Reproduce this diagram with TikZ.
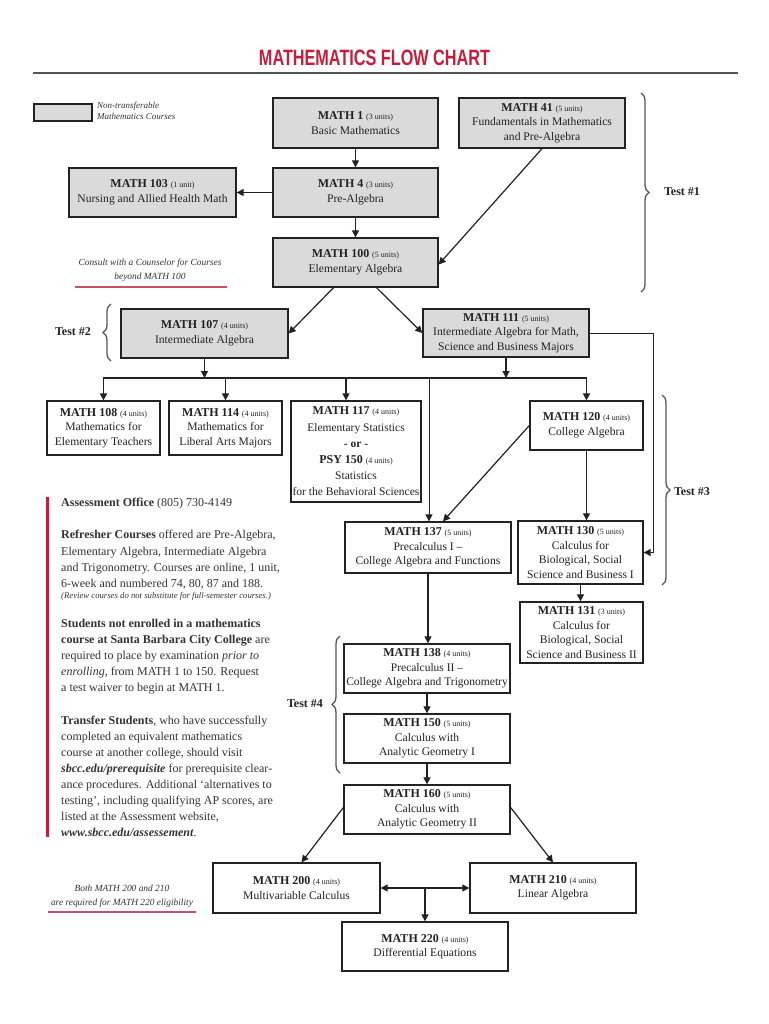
\documentclass[tikz,border=0pt]{standalone}
\usepackage{fontspec}
\setmainfont{Liberation Serif}
\newfontfamily\titlefont{Liberation Sans}
\usetikzlibrary{arrows.meta,decorations.pathreplacing,calc}
\definecolor{sbred}{HTML}{C41E3A}
\definecolor{txt}{HTML}{222222}
\definecolor{ltxt}{HTML}{333333}
\definecolor{boxgray}{HTML}{DADADA}
\definecolor{notered}{HTML}{C8506A}
\definecolor{rulegray}{HTML}{555555}
\newcommand\crstitle[2]{{\fontsize{12}{14}\selectfont\bfseries #1}~{\fontsize{8}{10}\selectfont(#2)}}
\newcommand\crs[3]{\crstitle{#1}{#2}\\#3}
\begin{document}
\begin{tikzpicture}[x=1pt,y=-1pt,
  wbox/.style={draw=txt, line width=1.3pt, fill=white, inner sep=1pt, align=center, text=txt,
    font=\fontsize{11.6}{14.5}\selectfont},
  gbox/.style={wbox, fill=boxgray},
  arr/.style={draw=txt, line width=1.2pt, -{Triangle[width=7pt,length=7pt]}},
  darr/.style={draw=txt, line width=1.2pt, {Triangle[width=7pt,length=7pt]}-{Triangle[width=7pt,length=7pt]}},
  brc/.style={decorate, decoration={brace, amplitude=8pt}, draw=rulegray, line width=1.3pt},
  testlbl/.style={text=txt, font=\fontsize{12}{14}\selectfont\bfseries},
  ln/.style={anchor=base west, inner sep=0pt, text=ltxt, font=\fontsize{12}{14}\selectfont},
  note/.style={align=center, text=ltxt, inner sep=0pt, font=\fontsize{9.4}{14}\selectfont\itshape},
  legtxt/.style={anchor=base west, inner sep=0pt, text=ltxt, font=\fontsize{9}{10}\selectfont\itshape}
]
\useasboundingbox (0,0) rectangle (768,1024);
\fill[white] (0,0) rectangle (768,1024);

% title
\node[inner sep=0pt, text=sbred] (title) at (374.5,58) {\resizebox{231pt}{15.5pt}{\titlefont\bfseries MATHEMATICS FLOW CHART}};
\coordinate (ruleL) at (33,73);
\coordinate (ruleR) at (738,73);
\draw[rulegray, line width=2pt] (ruleL) -- (ruleR);

% legend
\node[gbox, minimum width=58pt, minimum height=17pt] (leg) at (63,112.5) {};
\node[legtxt] (leg1) at (97,108.5) {Non-transferable};
\node[legtxt] (leg2) at (97,119.5) {Mathematics Courses};

% courses
\node[gbox, minimum width=165pt, minimum height=50pt] (m1) at (355.5,123) {\crs{MATH 1}{3 units}{Basic Mathematics}};
\node[gbox, minimum width=166pt, minimum height=50pt] (m41) at (542,123) {\crs{MATH 41}{5 units}{Fundamentals in Mathematics\\and Pre-Algebra}};
\node[gbox, minimum width=165pt, minimum height=49pt] (m4) at (355.5,192.5) {\crs{MATH 4}{3 units}{Pre-Algebra}};
\node[gbox, minimum width=167pt, minimum height=49pt] (m103) at (152.5,192.5) {\crs{MATH 103}{1 unit}{Nursing and Allied Health Math}};
\node[gbox, minimum width=165pt, minimum height=49pt] (m100) at (355.5,262.5) {\crs{MATH 100}{5 units}{Elementary Algebra}};
\node[gbox, minimum width=167pt, minimum height=49pt] (m107) at (204.5,333.5) {\crs{MATH 107}{4 units}{Intermediate Algebra}};
\node[gbox, minimum width=166pt, minimum height=48pt] (m111) at (506,333) {\crs{MATH 111}{5 units}{Intermediate Algebra for Math,\\Science and Business Majors}};
\node[wbox, minimum width=113pt, minimum height=54pt] (m108) at (103.5,428) {\crs{MATH 108}{4 units}{Mathematics for\\Elementary Teachers}};
\node[wbox, minimum width=113pt, minimum height=54pt] (m114) at (225.5,428) {\crs{MATH 114}{4 units}{Mathematics for\\Liberal Arts Majors}};
\node[wbox, minimum width=130pt, minimum height=101pt, font=\fontsize{11.5}{16.2}\selectfont] (m117) at (356,451.5) {\crstitle{MATH 117}{4 units}\\Elementary Statistics\\\textbf{- or -}\\\crstitle{PSY 150}{4 units}\\Statistics\\for the Behavioral Sciences};
\node[wbox, minimum width=113pt, minimum height=49pt] (m120) at (586.5,425.5) {\crs{MATH 120}{4 units}{College Algebra}};
\node[wbox, minimum width=166pt, minimum height=51pt] (m137) at (428,547.5) {\crs{MATH 137}{5 units}{Precalculus I --\\College Algebra and Functions}};
\node[wbox, minimum width=125pt, minimum height=63pt] (m130) at (580.5,552.5) {\crs{MATH 130}{5 units}{Calculus for\\Biological, Social\\Science and Business I}};
\node[wbox, minimum width=123pt, minimum height=61pt] (m131) at (581.5,632.5) {\crs{MATH 131}{3 units}{Calculus for\\Biological, Social\\Science and Business II}};
\node[wbox, minimum width=166pt, minimum height=49pt, font=\fontsize{11.5}{14.5}\selectfont] (m138) at (427,668.5) {\crs{MATH 138}{4 units}{Precalculus II --\\College Algebra and Trigonometry}};
\node[wbox, minimum width=166pt, minimum height=49pt] (m150) at (427,738.5) {\crs{MATH 150}{5 units}{Calculus with\\Analytic Geometry I}};
\node[wbox, minimum width=166pt, minimum height=49pt] (m160) at (427,809.5) {\crs{MATH 160}{5 units}{Calculus with\\Analytic Geometry II}};
\node[wbox, minimum width=167pt, minimum height=50pt] (m200) at (296.5,888) {\crs{MATH 200}{4 units}{Multivariable Calculus}};
\node[wbox, minimum width=166pt, minimum height=50pt] (m210) at (553,888) {\crs{MATH 210}{4 units}{Linear Algebra}};
\node[wbox, minimum width=166pt, minimum height=49pt] (m220) at (425,946.5) {\crs{MATH 220}{4 units}{Differential Equations}};

% connectors
\draw[arr] (m1) -- (m4);
\draw[arr] (m4) -- (m103);
\draw[arr] (m4) -- (m100);
\draw[arr] (m41.south) -- ([yshift=-2pt]m100.east);
\draw[arr] ([xshift=-22pt]m100.south) -- (m107.east);
\draw[arr] ([xshift=21pt]m100.south) -- (m111.west);
\coordinate (bus) at (104,378);
\draw[arr] (m107.south) -- (m107.south |- bus);
\draw[arr] (m111.south) -- (m111.south |- bus);
\draw[darr, line width=1.8pt] (m108.north) -- (m108.north |- bus) -- (m120.north |- bus) -- (m120.north);
\draw[arr] (m114.north |- bus) -- (m114.north);
\draw[arr] ([xshift=-10pt]m117.north |- bus) -- ([xshift=-10pt]m117.north);
\draw[arr, line width=0.9pt] ([xshift=1pt]m137.north |- bus) -- ([xshift=1pt]m137.north);
\draw[arr] (m120.west) -- ([xshift=15pt]m137.north);
\draw[arr] (m120.south) -- (m120.south |- m130.north);
\coordinate (r111) at (653,333);
\draw[arr, line width=0.9pt] (m111.east) -- (r111) |- (m130.east);
\draw[arr] (m130.south) -- (m130.south |- m131.north);
\draw[arr] (m137.south) -- (m137.south |- m138.north);
\draw[arr] (m138.south) -- (m138.south |- m150.north);
\draw[arr] (m150.south) -- (m150.south |- m160.north);
\draw[arr] ([yshift=2pt]m160.west) -- ([xshift=5pt]m200.north);
\draw[arr] ([yshift=2pt]m160.east) -- (m210.north);
\draw[darr] (m200.east) -- (m210.west);
\coordinate (mid) at ($(m200.east)!0.5!(m210.west)$);
\draw[arr] (mid) -- (mid |- m220.north);

% braces
\draw[brc] (641,93) -- (641,292);
\node[testlbl] (t1) at (682,192) {Test \#1};
\draw[brc] (111,361) -- (111,304);
\node[testlbl] (t2) at (73,332) {Test \#2};
\draw[brc] (662,395) -- (662,585);
\node[testlbl] (t3) at (692,492) {Test \#3};
\draw[brc] (340,773) -- (340,636);
\node[testlbl] (t4) at (305,704) {Test \#4};

% notes
\node[note] (cons) at (150,270) {Consult with a Counselor for Courses\\beyond MATH 100};
\coordinate (consL) at (75,287);
\coordinate (consR) at (227,287);
\draw[notered, line width=1.2pt] (consL) -- (consR);
\node[note] (both) at (122,896) {Both MATH 200 and 210\\are required for MATH 220 eligibility};
\coordinate (bothL) at (48,912);
\coordinate (bothR) at (196,912);
\draw[notered, line width=1.5pt] (bothL) -- (bothR);

% left info block
\coordinate (barT) at (47.5,497);
\coordinate (barB) at (47.5,837);
\draw[sbred, line width=2.6pt] (barT) -- (barB);
\node[ln] (l1) at (61,506) {\textbf{Assessment Office} (805) 730-4149};
\node[ln] (l2) at (61,538) {\textbf{Refresher Courses} offered are Pre-Algebra,};
\node[ln] (l3) at (61,555) {Elementary Algebra, Intermediate Algebra};
\node[ln] (l4) at (61,571) {and Trigonometry. Courses are online, 1 unit,};
\node[ln] (l5) at (61,587) {6-week and numbered 74, 80, 87 and 188.};
\node[ln, font=\fontsize{8.7}{10}\selectfont\itshape] (l6) at (61,598) {(Review courses do not substitute for full-semester courses.)};
\node[ln] (l7) at (61,627) {\textbf{Students not enrolled in a mathematics}};
\node[ln] (l8) at (61,643) {\textbf{course at Santa Barbara City College} are};
\node[ln] (l9) at (61,659) {required to place by examination \textit{prior to}};
\node[ln] (l10) at (61,675) {\textit{enrolling}, from MATH 1 to 150. Request};
\node[ln] (l11) at (61,691) {a test waiver to begin at MATH 1.};
\node[ln] (l12) at (61,724) {\textbf{Transfer Students}, who have successfully};
\node[ln] (l13) at (61,740) {completed an equivalent mathematics};
\node[ln] (l14) at (61,756) {course at another college, should visit};
\node[ln] (l15) at (61,772) {\textbf{\textit{sbcc.edu/prerequisite}} for prerequisite clear-};
\node[ln] (l16) at (61,788) {ance procedures. Additional `alternatives to};
\node[ln] (l17) at (61,804) {testing', including qualifying AP scores, are};
\node[ln] (l18) at (61,820) {listed at the Assessment website,};
\node[ln] (l19) at (61,836) {\textbf{\textit{www.sbcc.edu/assessement}}.};
\end{tikzpicture}
\end{document}
